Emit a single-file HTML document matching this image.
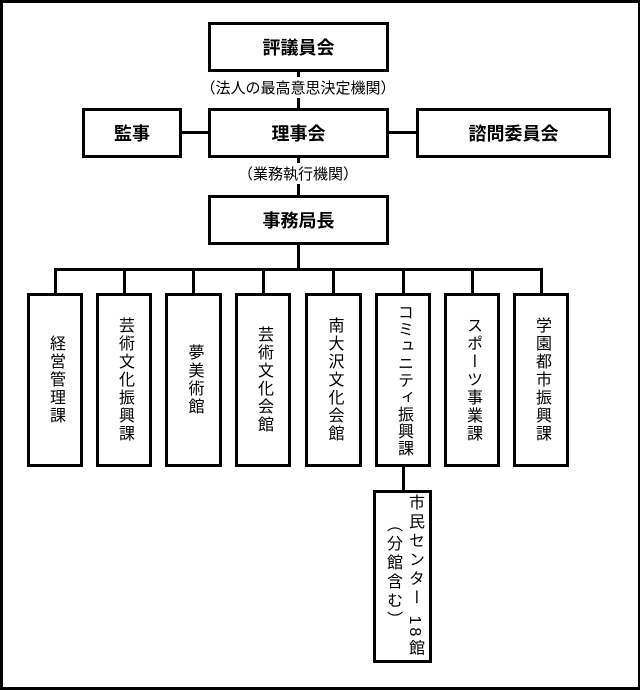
<!DOCTYPE html>
<html><head><meta charset="utf-8"><style>
body{margin:0;width:640px;height:690px;background:#fff;position:relative;overflow:hidden;font-family:"Liberation Sans","Noto Sans CJK JP",sans-serif;}
.frame{position:absolute;left:0;top:0;width:635px;height:684px;border:3px solid #000;}
.b{position:absolute;box-sizing:border-box;border:3px solid #000;background:#fff;display:flex;align-items:center;justify-content:center;font-weight:bold;font-size:18px;color:#000;}
.v{position:absolute;box-sizing:border-box;border:3px solid #000;background:#fff;display:flex;align-items:center;justify-content:center;font-size:16px;color:#000;}
.v span{writing-mode:vertical-rl;letter-spacing:2px;}
.l{position:absolute;background:#000;}
.t{position:absolute;font-size:15px;color:#000;white-space:nowrap;transform:translateX(-50%);}
.c{position:absolute;writing-mode:vertical-rl;font-size:16px;line-height:18px;}
</style></head><body>
<div class="frame"></div>
<div class="l" style="left:297px;top:70px;width:3px;height:126px"></div>
<div class="l" style="left:180px;top:131px;width:30px;height:3px"></div>
<div class="l" style="left:387px;top:131px;width:31px;height:3px"></div>
<div class="l" style="left:297px;top:243px;width:3px;height:27px"></div>
<div class="l" style="left:54px;top:268px;width:489px;height:3px"></div>
<div class="l" style="left:54px;top:268px;width:3px;height:27px"></div>
<div class="l" style="left:123px;top:268px;width:3px;height:27px"></div>
<div class="l" style="left:192px;top:268px;width:3px;height:27px"></div>
<div class="l" style="left:262px;top:268px;width:3px;height:27px"></div>
<div class="l" style="left:332px;top:268px;width:3px;height:27px"></div>
<div class="l" style="left:402px;top:268px;width:3px;height:27px"></div>
<div class="l" style="left:471px;top:268px;width:3px;height:27px"></div>
<div class="l" style="left:540px;top:268px;width:3px;height:27px"></div>
<div class="l" style="left:402px;top:465px;width:3px;height:27px"></div>
<div class="t" style="left:298px;top:77px;background:#fff;padding:0 2px">（法人の最高意思決定機関）</div>
<div class="t" style="left:298px;top:163px;background:#fff;padding:0 2px">（業務執行機関）</div>
<div class="b" style="left:208px;top:22px;width:181px;height:50px">評議員会</div>
<div class="b" style="left:82px;top:108px;width:100px;height:50px">監事</div>
<div class="b" style="left:208px;top:108px;width:181px;height:50px">理事会</div>
<div class="b" style="left:416px;top:108px;width:195px;height:50px">諮問委員会</div>
<div class="b" style="left:208px;top:195px;width:181px;height:50px">事務局長</div>
<div class="v" style="left:27px;top:293px;width:56px;height:174px"><span>経営管理課</span></div>
<div class="v" style="left:96px;top:293px;width:56px;height:174px"><span>芸術文化振興課</span></div>
<div class="v" style="left:165px;top:293px;width:57px;height:174px"><span>夢美術館</span></div>
<div class="v" style="left:235px;top:293px;width:56px;height:174px"><span>芸術文化会館</span></div>
<div class="v" style="left:305px;top:293px;width:57px;height:174px"><span>南大沢文化会館</span></div>
<div class="v" style="left:375px;top:293px;width:56px;height:174px"><span style="letter-spacing:1px">コミュニティ振興課</span></div>
<div class="v" style="left:444px;top:293px;width:56px;height:174px"><span>スポーツ事業課</span></div>
<div class="v" style="left:513px;top:293px;width:56px;height:174px"><span>学園都市振興課</span></div>
<div class="v" style="left:373px;top:490px;width:59px;height:173px"></div>
<div class="c" style="left:405px;top:494px;letter-spacing:3px">市民センター 18館</div>
<div class="c" style="left:383px;top:516px;letter-spacing:3px">（分館含む）</div>
</body></html>
